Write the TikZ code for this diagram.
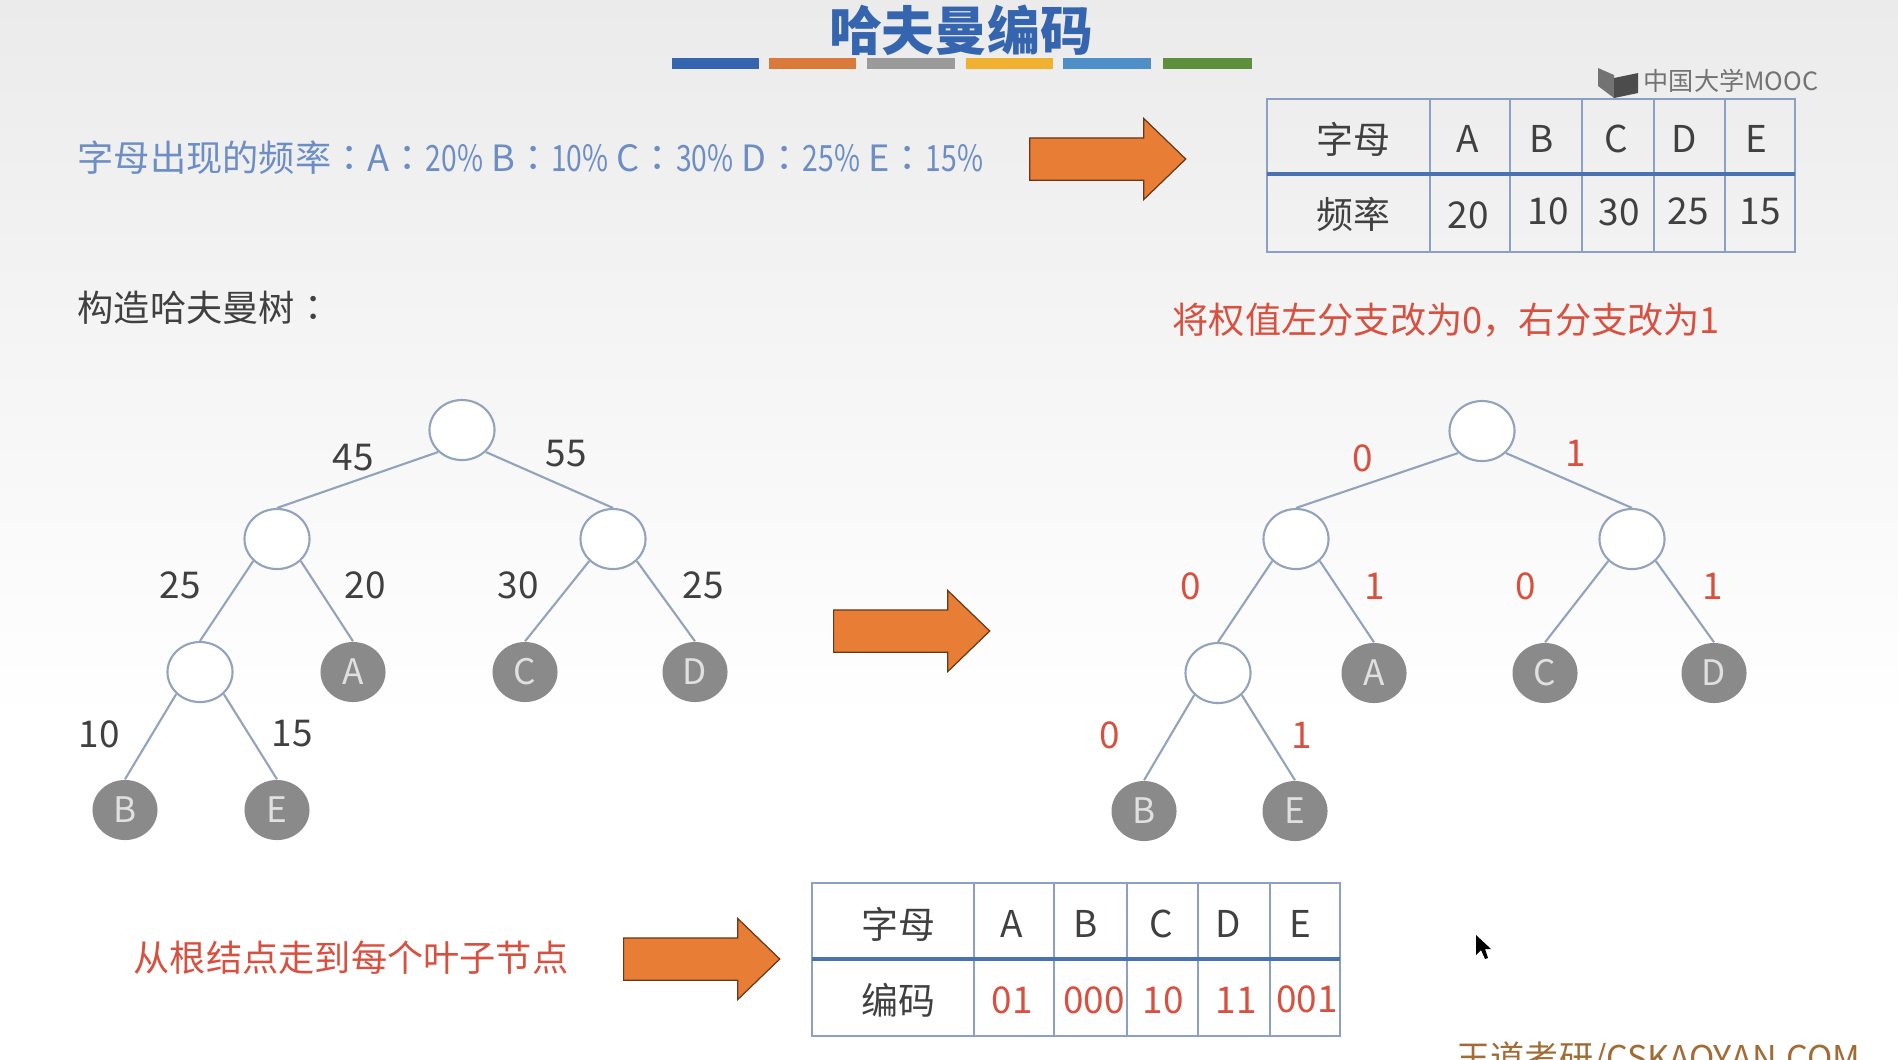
\documentclass[tikz,border=0pt]{standalone}
\usepackage{fontspec}
\setmainfont{Noto Sans CJK SC}
\newfontfamily\cjktc{Noto Sans CJK TC}
\newfontfamily\narrowfont[FakeStretch=0.78]{Noto Sans CJK SC}
\usetikzlibrary{shapes.geometric}
\usetikzlibrary{shapes.arrows}
\definecolor{bgtop}{HTML}{EBEBEB}
\definecolor{titleblue}{HTML}{3565AE}
\definecolor{freqblue}{HTML}{6C8EC4}
\definecolor{redtext}{HTML}{D8503F}
\definecolor{inktext}{HTML}{404040}
\definecolor{edgeblue}{HTML}{93A3BC}
\definecolor{leafgray}{HTML}{8A8A8A}
\definecolor{arroworange}{HTML}{E87D36}
\definecolor{gridblue}{HTML}{8AA0C4}
\definecolor{midblue}{HTML}{4A72AE}
\definecolor{barorange}{HTML}{D9793A}
\definecolor{bargray}{HTML}{9A9A9A}
\definecolor{baryellow}{HTML}{F0B030}
\definecolor{barblue}{HTML}{4F8FC8}
\definecolor{bargreen}{HTML}{5E8F3C}
\newcommand{\pct}[1]{{\narrowfont #1\%}}
\newcommand{\colonmark}{{\cjktc ：}}
\tikzset{
	inner/.style={shape=ellipse, draw=edgeblue, fill=white, line width=0.6pt, minimum width=0.65cm, minimum height=0.6cm, inner sep=0pt},
	leaf/.style={shape=ellipse, fill=leafgray, text=white!88!black, minimum width=0.65cm, minimum height=0.6cm, inner sep=0pt, font=\fontsize{10}{12}\selectfont},
	branch/.style={draw=edgeblue, line width=0.6pt},
	weight/.style={text=inktext, inner sep=0pt, xshift=0.01cm, font=\fontsize{10.5}{12}\selectfont},
	bit/.style={text=redtext, inner sep=0pt, xshift=0.01cm, font=\fontsize{10.5}{12}\selectfont},
	line/.style={inner sep=0pt, font=\fontsize{10.3}{12}\selectfont},
	bigarrow/.style={shape=single arrow, fill=arroworange, draw=black!55!arroworange, line width=0.35pt, minimum height=1.56cm, single arrow head extend=0.195cm, single arrow tip angle=88, inner xsep=0pt, inner ysep=0.205cm, anchor=tail},
	grid/.style={draw=gridblue, line width=0.5pt},
	midline/.style={draw=midblue, line width=0.95pt},
	bar/.style={shape=rectangle, minimum height=0.11cm, inner sep=0pt}
}
\begin{document}
\begin{tikzpicture}[x=0.01cm, y=-0.01cm]
	\useasboundingbox (0, 0) rectangle (1898, 1059);
	% Background:
	\fill[white] (0, 0) rectangle (1898, 1059);
	\shade[top color=bgtop, bottom color=white] (0, 0) rectangle (1898, 720);
	% Title and colour bars:
	\node[text=titleblue, inner sep=0pt, font=\fontsize{15}{18}\selectfont\bfseries](title) at (961, 30){哈夫曼编码};
	\node[bar, fill=titleblue, minimum width=0.87cm](bar1) at (715.5, 63.5){};
	\node[bar, fill=barorange, minimum width=0.87cm](bar2) at (812.5, 63.5){};
	\node[bar, fill=bargray, minimum width=0.88cm](bar3) at (911, 63.5){};
	\node[bar, fill=baryellow, minimum width=0.87cm](bar4) at (1009.5, 63.5){};
	\node[bar, fill=barblue, minimum width=0.88cm](bar5) at (1107, 63.5){};
	\node[bar, fill=bargreen, minimum width=0.89cm](bar6) at (1207.5, 63.5){};
	% MOOC mark:
	\fill[black!55] (1598, 68) -- (1614, 75) -- (1614, 98) -- (1598, 86) -- cycle;
	\fill[black!70] (1638, 73) -- (1638, 93) -- (1614, 98) -- (1614, 78) -- cycle;
	\node[text=black!55, inner sep=0pt, anchor=west, font=\fontsize{7.15}{9}\selectfont](mooc) at (1643, 81){中国大学MOOC};
	% Frequencies and first table:
	\node[line, text=freqblue, anchor=west](freq) at (77, 158){字母出现的频率\colonmark A\colonmark\pct{20} B\colonmark\pct{10} C\colonmark\pct{30} D\colonmark\pct{25} E\colonmark\pct{15}};
	\node[bigarrow](arrow1) at (1029, 159){};
	\draw[grid] (1267, 99) rectangle (1795, 252);
	\draw[grid] (1430, 99) -- (1430, 252);
	\draw[grid] (1510, 99) -- (1510, 252);
	\draw[grid] (1582, 99) -- (1582, 252);
	\draw[grid] (1654, 99) -- (1654, 252);
	\draw[grid] (1725, 99) -- (1725, 252);
	\draw[midline] (1267, 174) -- (1795, 174);
	\node[weight](f0) at (1352, 139){字母};
	\node[weight](f1) at (1467, 139){A};
	\node[weight](f2) at (1541, 139){B};
	\node[weight](f3) at (1615, 139){C};
	\node[weight](f4) at (1683, 139){D};
	\node[weight](f5) at (1755, 139){E};
	\node[weight](g0) at (1352, 214){频率};
	\node[weight](g1) at (1467, 215){20};
	\node[weight](g2) at (1547, 211){10};
	\node[weight](g3) at (1618, 212){30};
	\node[weight](g4) at (1687, 211){25};
	\node[weight](g5) at (1759, 212){15};
	% Captions:
	\node[line, text=inktext, anchor=west](build) at (77, 308){构造哈夫曼树\colonmark};
	\node[line, text=redtext, anchor=west](change) at (1172, 320){将权值左分支改为0，右分支改为1};
	% Left tree:
	\node[inner](lroot) at (462, 430){};
	\node[inner](ln1) at (277, 539){};
	\node[inner](ln2) at (613, 539){};
	\node[inner](ln3) at (200, 672){};
	\node[leaf](la) at (353, 672){A};
	\node[leaf](lc) at (525, 672){C};
	\node[leaf](ld) at (695, 672){D};
	\node[leaf](lb) at (125, 810){B};
	\node[leaf](le) at (277, 810){E};
	\draw[branch] (lroot.south west) -- (ln1.north);
	\draw[branch] (lroot.south east) -- (ln2.north);
	\draw[branch] (ln1.south west) -- (ln3.north);
	\draw[branch] (ln1.south east) -- (la.north);
	\draw[branch] (ln2.south west) -- (lc.north);
	\draw[branch] (ln2.south east) -- (ld.north);
	\draw[branch] (ln3.south west) -- (lb.north);
	\draw[branch] (ln3.south east) -- (le.north);
	\node[weight](w1) at (352, 458){45};
	\node[weight](w2) at (565, 454){55};
	\node[weight](w3) at (179, 585){25};
	\node[weight](w4) at (364, 585){20};
	\node[weight](w5) at (517, 585){30};
	\node[weight](w6) at (702, 585){25};
	\node[weight](w7) at (98, 734){10};
	\node[weight](w8) at (291, 734){15};
	\node[bigarrow](arrow2) at (833, 631){};
	% Right tree:
	\node[inner](rroot) at (1482, 431){};
	\node[inner](rn1) at (1296, 539){};
	\node[inner](rn2) at (1632, 539){};
	\node[inner](rn3) at (1218, 673){};
	\node[leaf](ra) at (1374, 673){A};
	\node[leaf](rc) at (1545, 673){C};
	\node[leaf](rd) at (1714, 673){D};
	\node[leaf](rb) at (1144, 811){B};
	\node[leaf](re) at (1295, 811){E};
	\draw[branch] (rroot.south west) -- (rn1.north);
	\draw[branch] (rroot.south east) -- (rn2.north);
	\draw[branch] (rn1.south west) -- (rn3.north);
	\draw[branch] (rn1.south east) -- (ra.north);
	\draw[branch] (rn2.south west) -- (rc.north);
	\draw[branch] (rn2.south east) -- (rd.north);
	\draw[branch] (rn3.south west) -- (rb.north);
	\draw[branch] (rn3.south east) -- (re.north);
	\node[bit](b1) at (1362, 458){0};
	\node[bit](b2) at (1575, 453){1};
	\node[bit](b3) at (1190, 586){0};
	\node[bit](b4) at (1374, 586){1};
	\node[bit](b5) at (1525, 586){0};
	\node[bit](b6) at (1712, 586){1};
	\node[bit](b7) at (1109, 735){0};
	\node[bit](b8) at (1301, 735){1};
	% Codes and second table:
	\node[line, text=redtext, anchor=west](walk) at (133, 958){从根结点走到每个叶子节点};
	\node[bigarrow](arrow3) at (623, 959){};
	\draw[grid] (812, 883) rectangle (1340, 1036);
	\draw[grid] (974, 883) -- (974, 1036);
	\draw[grid] (1054, 883) -- (1054, 1036);
	\draw[grid] (1127, 883) -- (1127, 1036);
	\draw[grid] (1198, 883) -- (1198, 1036);
	\draw[grid] (1270, 883) -- (1270, 1036);
	\draw[midline] (812, 959) -- (1340, 959);
	\node[weight](c0) at (897, 924){字母};
	\node[weight](c1) at (1011, 924){A};
	\node[weight](c2) at (1085, 924){B};
	\node[weight](c3) at (1160, 924){C};
	\node[weight](c4) at (1227, 924){D};
	\node[weight](c5) at (1299, 924){E};
	\node[weight](d0) at (897, 1000){编码};
	\node[bit](d1) at (1011, 1000){01};
	\node[bit](d2) at (1093, 1000){000};
	\node[bit](d3) at (1162, 1000){10};
	\node[bit](d4) at (1235, 1000){11};
	\node[bit](d5) at (1306, 999){001};
	% Cursor and footer:
	\fill[black] (1476, 935) -- (1476, 955) -- (1481, 950) -- (1485, 959) -- (1488, 958) -- (1485, 949) -- (1491, 949) -- cycle;
	\node[text=brown!85!black, inner sep=0pt, anchor=west, font=\fontsize{9.7}{11}\selectfont](site) at (1456, 1059){王道考研/CSKAOYAN.COM};
\end{tikzpicture}
\end{document}
